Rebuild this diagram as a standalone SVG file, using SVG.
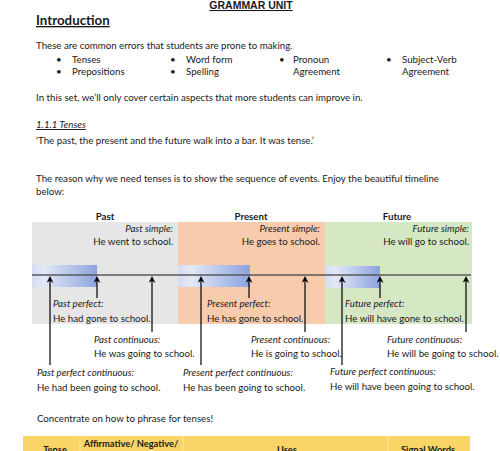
<svg xmlns="http://www.w3.org/2000/svg" width="500" height="451" viewBox="0 0 500 451">
<style>
text{font-family:Lato,"Open Sans",sans-serif;font-size:9.7px;fill:#1a1a1a}
.h{font-family:"Liberation Sans",Arial,sans-serif;font-weight:bold;font-size:10.5px;text-decoration:underline}
.intro{font-weight:bold;font-size:13.3px;text-decoration:underline}
.it{font-style:italic}
.b{font-weight:bold}
.r{text-anchor:end}
.m{text-anchor:middle}
.u{text-decoration:underline}
.th{font-weight:bold;text-anchor:middle;font-size:9.3px}
.arr{stroke:#000;stroke-width:1.2;fill:none;marker-end:url(#ah)}
.axis{stroke:#595959;stroke-width:1.3}
.div{stroke:#fce7a6;stroke-width:1}
</style>
<defs>
<marker id="ah" viewBox="0 0 10 10" refX="7" refY="5" markerUnits="userSpaceOnUse" markerWidth="8" markerHeight="7" orient="auto">
<path d="M0,0 L10,5 L0,10 L3,5 z" fill="#000"/>
</marker>
<linearGradient id="bg" x1="0" y1="0" x2="1" y2="0">
<stop offset="0" stop-color="#d3dcf2"/>
<stop offset="0.18" stop-color="#e4e9f7"/>
<stop offset="1" stop-color="#8ca3de"/>
</linearGradient>
</defs>
<rect width="500" height="451" fill="#fff"/>
<g id="header">
<text class="h m" x="251" y="9">GRAMMAR UNIT</text>
<text class="intro" x="36" y="25">Introduction</text>
<text x="36" y="49">These are common errors that students are prone to making.</text>
<text x="56" y="63">•</text><text x="72" y="63">Tenses</text>
<text x="56" y="75">•</text><text x="72" y="75">Prepositions</text>
<text x="170" y="63">•</text><text x="186" y="63">Word form</text>
<text x="170" y="75">•</text><text x="186" y="75">Spelling</text>
<text x="279" y="63">•</text><text x="293" y="63">Pronoun</text>
<text x="293" y="75">Agreement</text>
<text x="386" y="63">•</text><text x="402" y="63">Subject-Verb</text>
<text x="402" y="75">Agreement</text>
<text x="36" y="101">In this set, we’ll only cover certain aspects that more students can improve in.</text>
<text class="it u" x="36" y="128">1.1.1 Tenses</text>
<text x="36" y="144">‘The past, the present and the future walk into a bar. It was tense.’</text>
<text x="36" y="182">The reason why we need tenses is to show the sequence of events. Enjoy the beautiful timeline</text>
<text x="36" y="195">below:</text>
</g>
<g id="periods">
<rect x="32" y="222" width="146" height="102" fill="#e6e6e6"/>
<rect x="178" y="222" width="147" height="102" fill="#f8cbad"/>
<rect x="325" y="222" width="147" height="102" fill="#d6e7c4"/>
<rect x="32" y="265" width="65" height="22" fill="url(#bg)"/>
<rect x="178" y="265" width="72" height="22" fill="url(#bg)"/>
<rect x="325" y="266" width="55" height="22" fill="url(#bg)"/>
<line class="axis" x1="32" y1="275" x2="471" y2="275"/>
<text class="b m" x="105" y="220">Past</text>
<text class="b m" x="251" y="220">Present</text>
<text class="b m" x="397" y="220">Future</text>
</g>
<g id="connectors">
<line class="arr" x1="50" y1="365" x2="50" y2="278"/>
<line class="arr" x1="97" y1="298" x2="97" y2="278"/>
<line class="arr" x1="152" y1="332" x2="152" y2="278"/>
<line class="arr" x1="201" y1="365" x2="201" y2="278"/>
<line class="arr" x1="249" y1="298" x2="249" y2="278"/>
<line class="arr" x1="305" y1="332" x2="305" y2="278"/>
<line class="arr" x1="342" y1="365" x2="342" y2="278"/>
<line class="arr" x1="380" y1="298" x2="380" y2="278"/>
<line class="arr" x1="466" y1="332" x2="466" y2="278"/>
</g>
<g id="past-simple"><text class="it r" x="173" y="232">Past simple:</text><text class="r" x="173" y="245">He went to school.</text></g>
<g id="present-simple"><text class="it r" x="320" y="232">Present simple:</text><text class="r" x="320" y="245">He goes to school.</text></g>
<g id="future-simple"><text class="it r" x="469" y="232">Future simple:</text><text class="r" x="469" y="245">He will go to school.</text></g>
<g id="past-perfect"><text class="it" x="53" y="307">Past perfect:</text><text x="53" y="322">He had gone to school.</text></g>
<g id="present-perfect"><text class="it" x="207" y="307">Present perfect:</text><text x="207" y="322">He has gone to school.</text></g>
<g id="future-perfect"><text class="it" x="345" y="307">Future perfect:</text><text x="345" y="322">He will have gone to school.</text></g>
<g id="past-continuous"><text class="it" x="94" y="343">Past continuous:</text><text x="94" y="357">He was going to school.</text></g>
<g id="present-continuous"><text class="it" x="251" y="343">Present continuous:</text><text x="251" y="357">He is going to school.</text></g>
<g id="future-continuous"><text class="it" x="387" y="343">Future continuous:</text><text x="387" y="357">He will be going to school.</text></g>
<g id="past-perfect-continuous"><text class="it" x="37" y="376">Past perfect continuous:</text><text x="37" y="391">He had been going to school.</text></g>
<g id="present-perfect-continuous"><text class="it" x="183" y="376">Present perfect continuous:</text><text x="183" y="391">He has been going to school.</text></g>
<g id="future-perfect-continuous"><text class="it" x="330" y="375">Future perfect continuous:</text><text x="330" y="390">He will have been going to school.</text></g>
<g id="footer">
<text x="37" y="422">Concentrate on how to phrase for tenses!</text>
</g>
<g id="table-header">
<rect x="23" y="436" width="447" height="20" fill="#f9d467"/>
<line class="div" x1="80" y1="436" x2="80" y2="451"/>
<line class="div" x1="183" y1="436" x2="183" y2="451"/>
<line class="div" x1="388" y1="436" x2="388" y2="451"/>
<text class="th" x="55" y="453">Tense</text>
<text class="th" x="131" y="447">Affirmative/ Negative/</text>
<text class="th" x="287" y="453">Uses</text>
<text class="th" x="428" y="453">Signal Words</text>
</g>
</svg>
